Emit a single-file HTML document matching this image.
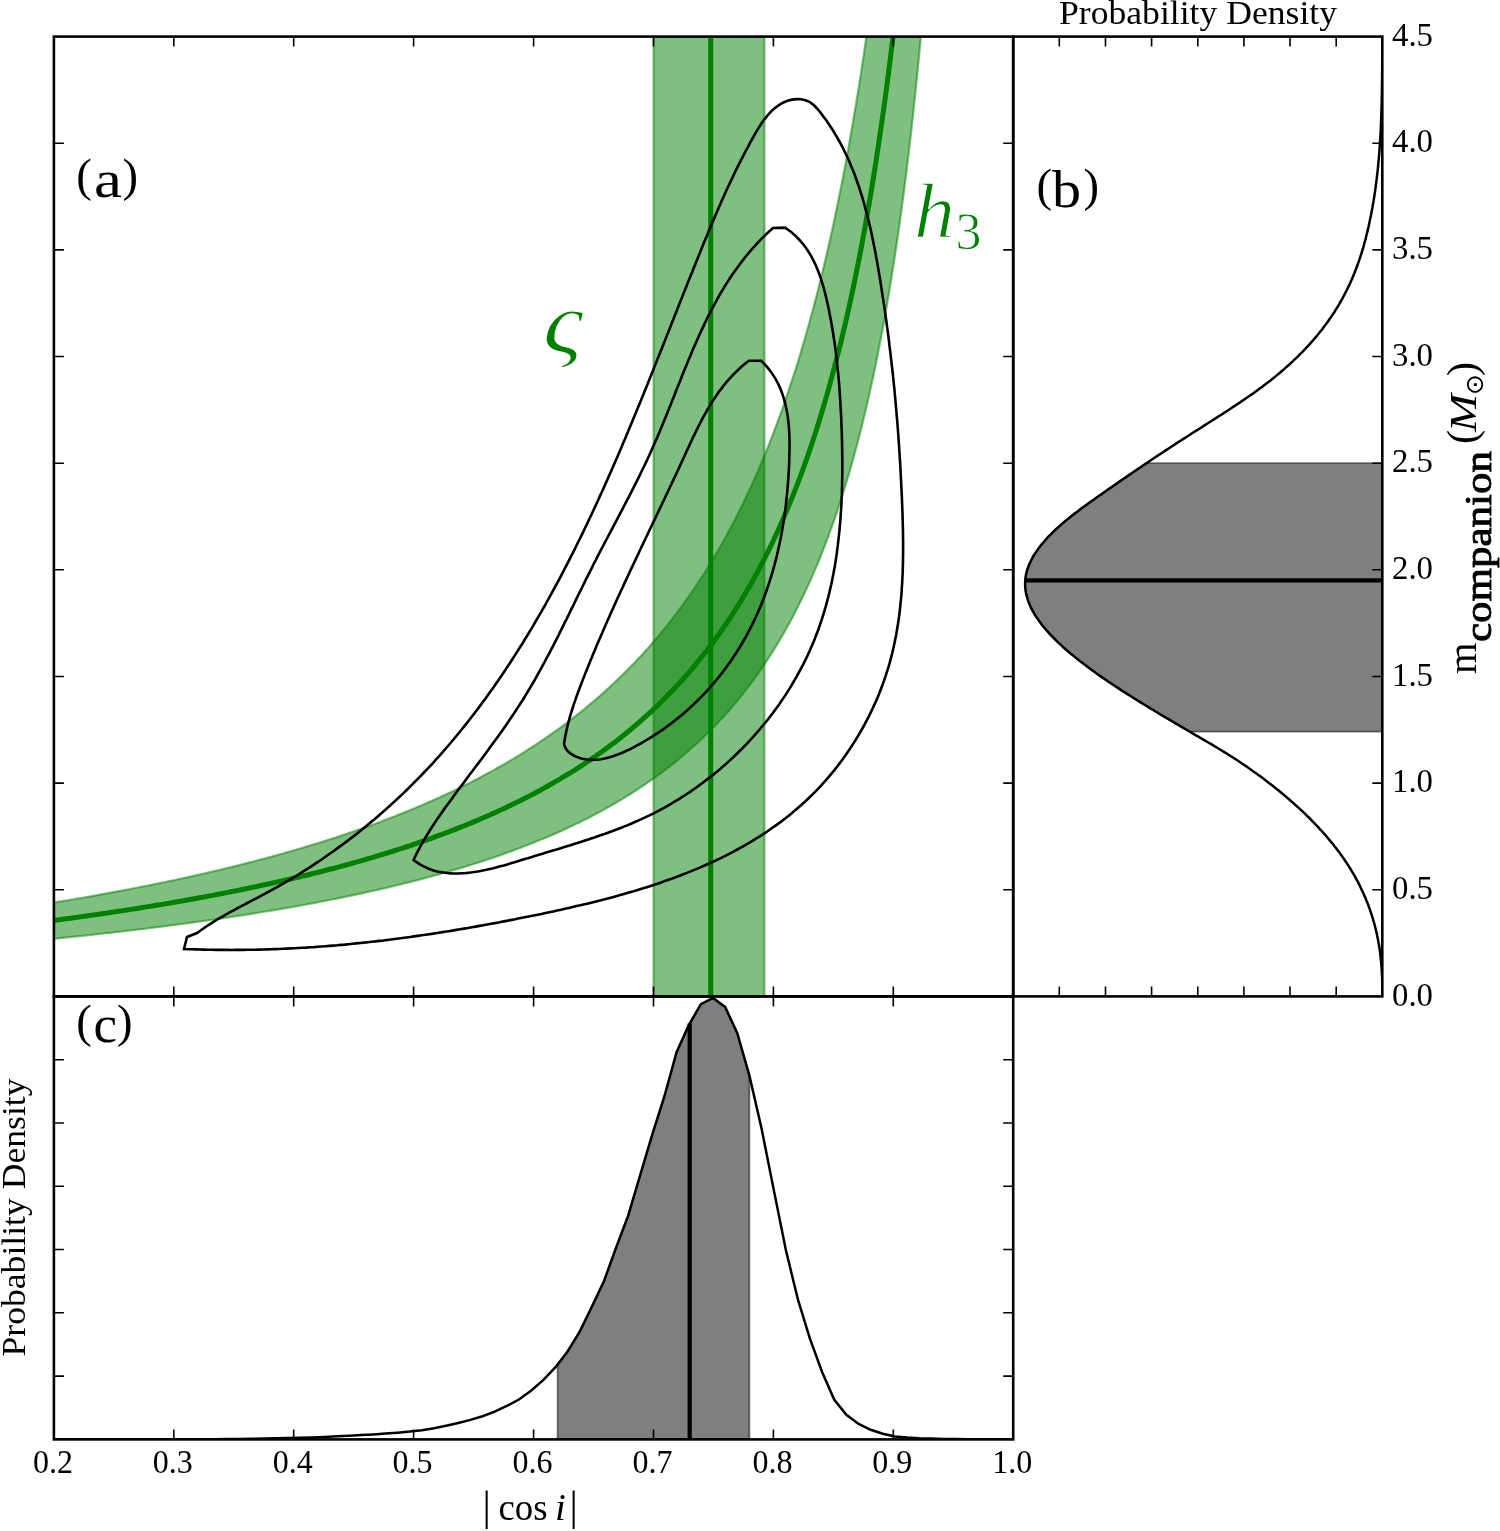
<!DOCTYPE html>
<html><head><meta charset="utf-8"><title>figure</title>
<style>html,body{margin:0;padding:0;background:#fff;}svg{display:block;}</style>
</head><body>
<svg width="1500" height="1531" viewBox="0 0 1500 1531">
<rect x="0" y="0" width="1500" height="1531" fill="#fff"/>
<defs><clipPath id="ca"><rect x="53.9" y="36.6" width="959.3" height="959.8"/></clipPath><clipPath id="cb"><rect x="1013.2" y="36.6" width="369.1" height="959.8"/></clipPath><clipPath id="cc"><rect x="53.9" y="996.4" width="959.3" height="443"/></clipPath></defs>
<g clip-path="url(#ca)">
<path d="M53.9 902.5 L56.6 902.1 L59.3 901.6 L62.1 901.2 L64.8 900.7 L67.5 900.3 L70.2 899.8 L72.9 899.4 L75.6 898.9 L78.4 898.4 L81.1 898 L83.8 897.5 L86.5 897 L89.2 896.6 L91.9 896.1 L94.7 895.6 L97.4 895.1 L100.1 894.6 L102.8 894.1 L105.5 893.6 L108.2 893.1 L111 892.6 L113.7 892.1 L116.4 891.6 L119.1 891.1 L121.8 890.6 L124.6 890.1 L127.3 889.6 L130 889.1 L132.7 888.5 L135.4 888 L138.1 887.5 L140.9 886.9 L143.6 886.4 L146.3 885.9 L149 885.3 L151.7 884.8 L154.4 884.2 L157.2 883.7 L159.9 883.1 L162.6 882.5 L165.3 882 L168 881.4 L170.7 880.8 L173.5 880.3 L176.2 879.7 L178.9 879.1 L181.6 878.5 L184.3 877.9 L187.1 877.3 L189.8 876.7 L192.5 876.1 L195.2 875.5 L197.9 874.9 L200.6 874.3 L203.4 873.7 L206.1 873 L208.8 872.4 L211.5 871.8 L214.2 871.1 L216.9 870.5 L219.7 869.9 L222.4 869.2 L225.1 868.5 L227.8 867.9 L230.5 867.2 L233.2 866.6 L236 865.9 L238.7 865.2 L241.4 864.5 L244.1 863.8 L246.8 863.1 L249.6 862.4 L252.3 861.7 L255 861 L257.7 860.3 L260.4 859.6 L263.1 858.9 L265.9 858.2 L268.6 857.4 L271.3 856.7 L274 855.9 L276.7 855.2 L279.4 854.4 L282.2 853.7 L284.9 852.9 L287.6 852.1 L290.3 851.4 L293 850.6 L295.7 849.8 L298.5 849 L301.2 848.2 L303.9 847.4 L306.6 846.6 L309.3 845.8 L312.1 844.9 L314.8 844.1 L317.5 843.3 L320.2 842.4 L322.9 841.6 L325.6 840.7 L328.4 839.8 L331.1 839 L333.8 838.1 L336.5 837.2 L339.2 836.3 L341.9 835.4 L344.7 834.5 L347.4 833.6 L350.1 832.6 L352.8 831.7 L355.5 830.8 L358.2 829.8 L361 828.9 L363.7 827.9 L366.4 826.9 L369.1 826 L371.8 825 L374.6 824 L377.3 823 L380 822 L382.7 820.9 L385.4 819.9 L388.1 818.9 L390.9 817.8 L393.6 816.8 L396.3 815.7 L399 814.6 L401.7 813.5 L404.4 812.4 L407.2 811.3 L409.9 810.2 L412.6 809.1 L415.3 808 L418 806.8 L420.8 805.7 L423.5 804.5 L426.2 803.3 L428.9 802.1 L431.6 800.9 L434.3 799.7 L437.1 798.5 L439.8 797.3 L442.5 796 L445.2 794.8 L447.9 793.5 L450.6 792.2 L453.4 790.9 L456.1 789.6 L458.8 788.3 L461.5 786.9 L464.2 785.6 L466.9 784.2 L469.7 782.9 L472.4 781.5 L475.1 780.1 L477.8 778.7 L480.5 777.2 L483.3 775.8 L486 774.3 L488.7 772.8 L491.4 771.4 L494.1 769.9 L496.8 768.3 L499.6 766.8 L502.3 765.2 L505 763.7 L507.7 762.1 L510.4 760.5 L513.1 758.9 L515.9 757.2 L518.6 755.6 L521.3 753.9 L524 752.2 L526.7 750.5 L529.4 748.7 L532.2 747 L534.9 745.2 L537.6 743.4 L540.3 741.6 L543 739.8 L545.8 737.9 L548.5 736 L551.2 734.1 L553.9 732.2 L556.6 730.3 L559.3 728.3 L562.1 726.3 L564.8 724.3 L567.5 722.3 L570.2 720.2 L572.9 718.1 L575.6 716 L578.4 713.8 L581.1 711.7 L583.8 709.5 L586.5 707.2 L589.2 705 L591.9 702.7 L594.7 700.4 L597.4 698.1 L600.1 695.7 L602.8 693.3 L605.5 690.8 L608.3 688.4 L611 685.9 L613.7 683.3 L616.4 680.7 L619.1 678.1 L621.8 675.5 L624.6 672.8 L627.3 670.1 L630 667.3 L632.7 664.5 L635.4 661.7 L638.1 658.8 L640.9 655.9 L643.6 652.9 L646.3 649.9 L649 646.9 L651.7 643.8 L654.4 640.6 L657.2 637.4 L659.9 634.2 L662.6 630.9 L665.3 627.6 L668 624.2 L670.8 620.7 L673.5 617.2 L676.2 613.7 L678.9 610 L681.6 606.4 L684.3 602.6 L687.1 598.8 L689.8 594.9 L692.5 591 L695.2 587 L697.9 582.9 L700.6 578.8 L703.4 574.6 L706.1 570.3 L708.8 566 L711.5 561.5 L714.2 557 L716.9 552.4 L719.7 547.7 L722.4 542.9 L725.1 538 L727.8 533.1 L730.5 528 L733.3 522.9 L736 517.6 L738.7 512.3 L741.4 506.8 L744.1 501.2 L746.8 495.5 L749.6 489.7 L752.3 483.8 L755 477.7 L757.7 471.6 L760.4 465.2 L763.1 458.8 L765.9 452.2 L768.6 445.5 L771.3 438.6 L774 431.5 L776.7 424.3 L779.4 416.9 L782.2 409.4 L784.9 401.6 L787.6 393.7 L790.3 385.6 L793 377.3 L795.8 368.8 L798.5 360.1 L801.2 351.1 L803.9 341.9 L806.6 332.5 L809.3 322.8 L812.1 312.8 L814.8 302.6 L817.5 292.1 L820.2 281.3 L822.9 270.2 L825.6 258.8 L828.4 247 L831.1 234.9 L833.8 222.4 L836.5 209.6 L839.2 196.3 L841.9 182.6 L844.7 168.5 L847.4 153.9 L850.1 138.8 L852.8 123.2 L855.5 107.1 L858.3 90.4 L861 73.1 L863.7 55.2 L866.4 36.6 L920.9 36.6 L918 67 L915.1 95.6 L912.2 122.5 L909.3 148 L906.4 172.1 L903.5 194.9 L900.6 216.5 L897.7 237 L894.8 256.6 L891.9 275.1 L889 292.9 L886.1 309.8 L883.2 326 L880.3 341.4 L877.4 356.2 L874.5 370.4 L871.6 384 L868.7 397.1 L865.8 409.6 L862.9 421.7 L860 433.3 L857.1 444.5 L854.2 455.2 L851.3 465.6 L848.4 475.6 L845.5 485.3 L842.6 494.6 L839.7 503.6 L836.8 512.4 L833.9 520.8 L831 529 L828.1 536.9 L825.2 544.6 L822.3 552 L819.4 559.3 L816.5 566.3 L813.6 573.1 L810.7 579.7 L807.8 586.1 L804.9 592.4 L802 598.4 L799.1 604.3 L796.2 610.1 L793.3 615.7 L790.4 621.2 L787.5 626.5 L784.6 631.6 L781.7 636.7 L778.8 641.6 L775.9 646.4 L773 651.1 L770.1 655.7 L767.2 660.2 L764.3 664.5 L761.4 668.8 L758.5 673 L755.6 677 L752.7 681 L749.8 684.9 L746.9 688.7 L744 692.4 L741.1 696.1 L738.2 699.7 L735.3 703.2 L732.4 706.6 L729.5 709.9 L726.6 713.2 L723.7 716.4 L720.8 719.6 L717.9 722.7 L715 725.7 L712.1 728.7 L709.2 731.6 L706.3 734.5 L703.4 737.3 L700.5 740.1 L697.6 742.8 L694.7 745.4 L691.8 748 L688.9 750.6 L686 753.1 L683.1 755.6 L680.2 758 L677.3 760.4 L674.4 762.8 L671.5 765.1 L668.6 767.3 L665.7 769.6 L662.8 771.8 L659.9 773.9 L657 776.1 L654.1 778.1 L651.2 780.2 L648.3 782.2 L645.4 784.2 L642.5 786.2 L639.6 788.1 L636.7 790 L633.8 791.9 L630.9 793.7 L628 795.5 L625.1 797.3 L622.2 799.1 L619.3 800.8 L616.4 802.5 L613.5 804.2 L610.6 805.9 L607.7 807.5 L604.8 809.1 L601.9 810.7 L599 812.3 L596.1 813.8 L593.2 815.4 L590.3 816.9 L587.4 818.4 L584.5 819.8 L581.6 821.3 L578.7 822.7 L575.8 824.1 L572.9 825.5 L570 826.8 L567.1 828.2 L564.2 829.5 L561.3 830.9 L558.4 832.2 L555.5 833.4 L552.6 834.7 L549.7 836 L546.8 837.2 L543.9 838.4 L541 839.6 L538.1 840.8 L535.2 842 L532.3 843.2 L529.4 844.3 L526.5 845.4 L523.6 846.6 L520.7 847.7 L517.8 848.8 L514.9 849.8 L512 850.9 L509.1 852 L506.2 853 L503.3 854.1 L500.4 855.1 L497.5 856.1 L494.6 857.1 L491.7 858.1 L488.8 859.1 L485.9 860 L483 861 L480.1 861.9 L477.2 862.9 L474.3 863.8 L471.4 864.7 L468.5 865.6 L465.6 866.5 L462.7 867.4 L459.8 868.3 L456.9 869.1 L454 870 L451.1 870.8 L448.2 871.7 L445.3 872.5 L442.4 873.3 L439.5 874.2 L436.6 875 L433.7 875.8 L430.8 876.6 L427.9 877.3 L425 878.1 L422.1 878.9 L419.2 879.6 L416.3 880.4 L413.4 881.1 L410.5 881.9 L407.6 882.6 L404.7 883.3 L401.8 884.1 L398.9 884.8 L396 885.5 L393.1 886.2 L390.2 886.9 L387.3 887.6 L384.4 888.2 L381.5 888.9 L378.6 889.6 L375.7 890.2 L372.8 890.9 L369.9 891.5 L367 892.2 L364.2 892.8 L361.3 893.4 L358.4 894.1 L355.5 894.7 L352.6 895.3 L349.7 895.9 L346.8 896.5 L343.9 897.1 L341 897.7 L338.1 898.3 L335.2 898.9 L332.3 899.5 L329.4 900 L326.5 900.6 L323.6 901.2 L320.7 901.7 L317.8 902.3 L314.9 902.8 L312 903.4 L309.1 903.9 L306.2 904.5 L303.3 905 L300.4 905.5 L297.5 906.1 L294.6 906.6 L291.7 907.1 L288.8 907.6 L285.9 908.1 L283 908.6 L280.1 909.1 L277.2 909.6 L274.3 910.1 L271.4 910.6 L268.5 911.1 L265.6 911.5 L262.7 912 L259.8 912.5 L256.9 913 L254 913.4 L251.1 913.9 L248.2 914.3 L245.3 914.8 L242.4 915.3 L239.5 915.7 L236.6 916.1 L233.7 916.6 L230.8 917 L227.9 917.5 L225 917.9 L222.1 918.3 L219.2 918.7 L216.3 919.2 L213.4 919.6 L210.5 920 L207.6 920.4 L204.7 920.8 L201.8 921.2 L198.9 921.6 L196 922 L193.1 922.4 L190.2 922.8 L187.3 923.2 L184.4 923.6 L181.5 924 L178.6 924.4 L175.7 924.8 L172.8 925.2 L169.9 925.5 L167 925.9 L164.1 926.3 L161.2 926.6 L158.3 927 L155.4 927.4 L152.5 927.7 L149.6 928.1 L146.7 928.5 L143.8 928.8 L140.9 929.2 L138 929.5 L135.1 929.9 L132.2 930.2 L129.3 930.6 L126.4 930.9 L123.5 931.2 L120.6 931.6 L117.7 931.9 L114.8 932.2 L111.9 932.6 L109 932.9 L106.1 933.2 L103.2 933.5 L100.3 933.9 L97.4 934.2 L94.5 934.5 L91.6 934.8 L88.7 935.1 L85.8 935.4 L82.9 935.8 L80 936.1 L77.1 936.4 L74.2 936.7 L71.3 937 L68.4 937.3 L65.5 937.6 L62.6 937.9 L59.7 938.2 L56.8 938.5 L53.9 938.7 Z" fill="#008000" fill-opacity="0.5" stroke="#008000" stroke-opacity="0.5" stroke-width="2.2"/>
<rect x="653.6" y="31.6" width="110.8" height="969.8" fill="#008000" fill-opacity="0.5" stroke="#008000" stroke-opacity="0.5" stroke-width="2.2"/>
<path d="M53.9 920.4 L56.7 920 L59.5 919.7 L62.3 919.3 L65.1 918.9 L67.9 918.5 L70.7 918.2 L73.5 917.8 L76.4 917.4 L79.2 917 L82 916.6 L84.8 916.2 L87.6 915.8 L90.4 915.4 L93.2 915 L96 914.6 L98.8 914.2 L101.6 913.8 L104.4 913.4 L107.2 913 L110 912.5 L112.8 912.1 L115.6 911.7 L118.4 911.3 L121.3 910.9 L124.1 910.4 L126.9 910 L129.7 909.6 L132.5 909.1 L135.3 908.7 L138.1 908.2 L140.9 907.8 L143.7 907.3 L146.5 906.9 L149.3 906.4 L152.1 906 L154.9 905.5 L157.7 905 L160.5 904.6 L163.3 904.1 L166.2 903.6 L169 903.2 L171.8 902.7 L174.6 902.2 L177.4 901.7 L180.2 901.2 L183 900.7 L185.8 900.2 L188.6 899.7 L191.4 899.2 L194.2 898.7 L197 898.2 L199.8 897.7 L202.6 897.2 L205.4 896.7 L208.2 896.1 L211.1 895.6 L213.9 895.1 L216.7 894.5 L219.5 894 L222.3 893.5 L225.1 892.9 L227.9 892.4 L230.7 891.8 L233.5 891.2 L236.3 890.7 L239.1 890.1 L241.9 889.5 L244.7 889 L247.5 888.4 L250.3 887.8 L253.1 887.2 L256 886.6 L258.8 886 L261.6 885.4 L264.4 884.8 L267.2 884.2 L270 883.6 L272.8 883 L275.6 882.4 L278.4 881.7 L281.2 881.1 L284 880.5 L286.8 879.8 L289.6 879.2 L292.4 878.5 L295.2 877.8 L298 877.2 L300.9 876.5 L303.7 875.8 L306.5 875.2 L309.3 874.5 L312.1 873.8 L314.9 873.1 L317.7 872.4 L320.5 871.7 L323.3 871 L326.1 870.2 L328.9 869.5 L331.7 868.8 L334.5 868.1 L337.3 867.3 L340.1 866.6 L342.9 865.8 L345.8 865 L348.6 864.3 L351.4 863.5 L354.2 862.7 L357 861.9 L359.8 861.1 L362.6 860.3 L365.4 859.5 L368.2 858.7 L371 857.9 L373.8 857.1 L376.6 856.2 L379.4 855.4 L382.2 854.5 L385 853.7 L387.8 852.8 L390.7 851.9 L393.5 851 L396.3 850.1 L399.1 849.2 L401.9 848.3 L404.7 847.4 L407.5 846.5 L410.3 845.6 L413.1 844.6 L415.9 843.7 L418.7 842.7 L421.5 841.7 L424.3 840.8 L427.1 839.8 L429.9 838.8 L432.7 837.8 L435.6 836.7 L438.4 835.7 L441.2 834.7 L444 833.6 L446.8 832.6 L449.6 831.5 L452.4 830.4 L455.2 829.3 L458 828.2 L460.8 827.1 L463.6 826 L466.4 824.9 L469.2 823.7 L472 822.6 L474.8 821.4 L477.6 820.2 L480.5 819 L483.3 817.8 L486.1 816.6 L488.9 815.4 L491.7 814.1 L494.5 812.9 L497.3 811.6 L500.1 810.3 L502.9 809 L505.7 807.7 L508.5 806.3 L511.3 805 L514.1 803.6 L516.9 802.3 L519.7 800.9 L522.5 799.5 L525.4 798 L528.2 796.6 L531 795.1 L533.8 793.7 L536.6 792.2 L539.4 790.7 L542.2 789.1 L545 787.6 L547.8 786 L550.6 784.4 L553.4 782.8 L556.2 781.2 L559 779.6 L561.8 777.9 L564.6 776.2 L567.4 774.5 L570.3 772.8 L573.1 771 L575.9 769.3 L578.7 767.5 L581.5 765.7 L584.3 763.8 L587.1 762 L589.9 760.1 L592.7 758.1 L595.5 756.2 L598.3 754.2 L601.1 752.2 L603.9 750.2 L606.7 748.2 L609.5 746.1 L612.3 744 L615.2 741.9 L618 739.7 L620.8 737.5 L623.6 735.3 L626.4 733 L629.2 730.7 L632 728.4 L634.8 726 L637.6 723.6 L640.4 721.2 L643.2 718.7 L646 716.2 L648.8 713.6 L651.6 711.1 L654.4 708.4 L657.2 705.8 L660.1 703 L662.9 700.3 L665.7 697.5 L668.5 694.6 L671.3 691.8 L674.1 688.8 L676.9 685.8 L679.7 682.8 L682.5 679.7 L685.3 676.5 L688.1 673.4 L690.9 670.1 L693.7 666.8 L696.5 663.4 L699.3 660 L702.1 656.5 L705 652.9 L707.8 649.3 L710.6 645.6 L713.4 641.9 L716.2 638 L719 634.1 L721.8 630.2 L724.6 626.1 L727.4 622 L730.2 617.8 L733 613.5 L735.8 609.1 L738.6 604.6 L741.4 600 L744.2 595.4 L747 590.6 L749.9 585.7 L752.7 580.8 L755.5 575.7 L758.3 570.5 L761.1 565.2 L763.9 559.8 L766.7 554.2 L769.5 548.6 L772.3 542.8 L775.1 536.8 L777.9 530.7 L780.7 524.5 L783.5 518.1 L786.3 511.6 L789.1 504.9 L791.9 498 L794.8 490.9 L797.6 483.7 L800.4 476.3 L803.2 468.6 L806 460.8 L808.8 452.8 L811.6 444.5 L814.4 436 L817.2 427.2 L820 418.2 L822.8 409 L825.6 399.4 L828.4 389.6 L831.2 379.4 L834 369 L836.8 358.2 L839.7 347 L842.5 335.5 L845.3 323.6 L848.1 311.4 L850.9 298.6 L853.7 285.5 L856.5 271.8 L859.3 257.7 L862.1 243 L864.9 227.8 L867.7 212 L870.5 195.6 L873.3 178.5 L876.1 160.7 L878.9 142.2 L881.7 122.9 L884.6 102.7 L887.4 81.7 L890.2 59.6 L893 36.6" fill="none" stroke="#008000" stroke-width="5"/>
<line x1="710.7" y1="36.6" x2="710.7" y2="996.4" stroke="#008000" stroke-width="5"/>
<path d="M184 949 L187 937 L197 933 L200.2 930.7 L203.4 928.5 L206.6 926.3 L209.9 924.1 L213.2 922.1 L216.5 920 L219.9 918 L223.3 916.1 L226.7 914.1 L230.1 912.2 L233.5 910.4 L236.9 908.5 L240.4 906.7 L243.9 904.8 L247.3 903 L250.8 901.2 L254.3 899.4 L257.8 897.6 L261.2 895.7 L264.7 893.9 L268.1 892 L271.6 890.1 L275 888.2 L278.5 886.3 L281.9 884.4 L285.3 882.4 L288.7 880.4 L292 878.4 L295.4 876.3 L298.8 874.3 L302.1 872.2 L305.4 870.1 L308.7 868 L312 865.8 L315.3 863.7 L318.6 861.5 L321.9 859.3 L325.1 857 L328.3 854.8 L331.6 852.5 L334.8 850.2 L337.9 847.9 L341.1 845.6 L344.3 843.2 L347.4 840.9 L350.6 838.5 L353.7 836.1 L356.8 833.7 L359.9 831.2 L362.9 828.7 L366 826.3 L369 823.8 L372 821.2 L375.1 818.7 L378 816.2 L381 813.6 L384 811 L386.9 808.4 L389.8 805.8 L392.7 803.1 L395.6 800.5 L398.5 797.8 L401.4 795.1 L404.2 792.4 L407 789.7 L409.8 786.9 L412.6 784.2 L415.3 781.4 L418.1 778.6 L420.8 775.8 L423.5 773 L426.2 770.2 L428.9 767.3 L431.6 764.5 L434.2 761.6 L436.8 758.7 L439.4 755.8 L442 752.9 L444.6 749.9 L447.1 747 L449.7 744 L452.2 741 L454.7 738 L457.2 735 L459.7 732 L462.1 729 L464.6 725.9 L467 722.9 L469.4 719.8 L471.8 716.7 L474.2 713.6 L476.5 710.5 L478.9 707.4 L481.2 704.3 L483.5 701.1 L485.9 698 L488.1 694.8 L490.4 691.6 L492.7 688.4 L494.9 685.2 L497.2 682 L499.4 678.8 L501.6 675.6 L503.8 672.3 L505.9 669.1 L508.1 665.8 L510.3 662.5 L512.4 659.2 L514.5 655.9 L516.6 652.6 L518.7 649.3 L520.8 646 L522.9 642.7 L524.9 639.3 L527 636 L529 632.6 L531 629.3 L533.1 625.9 L535 622.5 L537 619.1 L539 615.7 L541 612.3 L542.9 608.9 L544.9 605.5 L546.8 602 L548.7 598.6 L550.6 595.1 L552.5 591.7 L554.4 588.2 L556.2 584.8 L558.1 581.3 L560 577.8 L561.8 574.3 L563.6 570.8 L565.4 567.3 L567.2 563.8 L569 560.3 L570.8 556.8 L572.6 553.3 L574.4 549.8 L576.1 546.2 L577.9 542.7 L579.6 539.2 L581.4 535.6 L583.1 532.1 L584.8 528.5 L586.5 525 L588.2 521.4 L589.9 517.8 L591.6 514.3 L593.2 510.7 L594.9 507.1 L596.6 503.5 L598.2 500 L599.8 496.4 L601.5 492.8 L603.1 489.2 L604.7 485.6 L606.3 482 L607.9 478.4 L609.5 474.8 L611.1 471.2 L612.7 467.6 L614.2 464 L615.8 460.4 L617.4 456.8 L618.9 453.2 L620.5 449.5 L622 445.9 L623.5 442.3 L625.1 438.7 L626.6 435.1 L628.1 431.5 L629.6 427.8 L631.1 424.2 L632.6 420.6 L634.1 417 L635.6 413.3 L637.1 409.7 L638.6 406.1 L640.1 402.4 L641.6 398.8 L643.1 395.2 L644.5 391.5 L646 387.9 L647.5 384.3 L648.9 380.7 L650.4 377 L651.8 373.4 L653.3 369.8 L654.7 366.1 L656.2 362.5 L657.6 358.9 L659.1 355.2 L660.5 351.6 L662 348 L663.4 344.3 L664.9 340.7 L666.3 337.1 L667.7 333.4 L669.2 329.8 L670.6 326.2 L672 322.5 L673.5 318.9 L674.9 315.3 L676.3 311.7 L677.8 308 L679.2 304.4 L680.6 300.8 L682.1 297.2 L683.5 293.6 L685 290 L686.4 286.3 L687.8 282.7 L689.3 279.1 L690.7 275.5 L692.2 271.9 L693.6 268.3 L695.1 264.7 L696.5 261.1 L698 257.5 L699.4 253.9 L700.9 250.3 L702.3 246.7 L703.8 243.1 L705.3 239.5 L706.8 236 L708.2 232.4 L709.7 228.8 L711.2 225.2 L712.7 221.6 L714.3 218 L715.8 214.5 L717.3 210.9 L718.9 207.3 L720.5 203.7 L722 200.1 L723.7 196.5 L725.3 192.9 L726.9 189.3 L728.6 185.7 L730.3 182.1 L732 178.5 L733.7 174.9 L735.4 171.3 L737.2 167.7 L739 164.1 L740.9 160.4 L742.7 156.8 L744.6 153.1 L746.5 149.5 L748.5 145.8 L750.4 142.2 L752.5 138.5 L754.5 134.8 L756.6 131.2 L758.8 127.6 L761 124.2 L763.3 120.8 L765.8 117.6 L768.3 114.5 L770.9 111.7 L773.7 109 L776.6 106.7 L779.7 104.6 L782.9 102.7 L786.3 101.3 L789.9 100.1 L793.6 99.4 L797.3 99.1 L801 99.3 L804.6 100 L808 101.2 L811.1 103 L814 105.3 L816.6 108 L819.2 111 L821.6 114.1 L823.9 117.2 L826.2 120.3 L828.4 123.5 L830.6 126.7 L832.7 130 L834.7 133.3 L836.7 136.6 L838.6 140 L840.5 143.4 L842.3 146.8 L844 150.3 L845.7 153.8 L847.4 157.3 L849 160.8 L850.5 164.4 L852 168 L853.5 171.6 L854.9 175.3 L856.2 179 L857.5 182.7 L858.8 186.4 L860 190.1 L861.2 193.9 L862.4 197.7 L863.5 201.5 L864.6 205.3 L865.6 209.1 L866.6 213 L867.6 216.8 L868.6 220.7 L869.5 224.6 L870.4 228.5 L871.3 232.4 L872.1 236.3 L872.9 240.2 L873.7 244.1 L874.5 248.1 L875.3 252 L876 255.9 L876.7 259.9 L877.4 263.8 L878.1 267.7 L878.8 271.7 L879.4 275.6 L880.1 279.5 L880.7 283.5 L881.3 287.4 L881.9 291.3 L882.5 295.2 L883.1 299.1 L883.7 303 L884.3 306.9 L884.9 310.9 L885.4 314.8 L886 318.6 L886.5 322.5 L887 326.4 L887.6 330.3 L888.1 334.2 L888.6 338.1 L889.1 342 L889.5 345.9 L890 349.7 L890.5 353.6 L890.9 357.5 L891.4 361.4 L891.8 365.2 L892.3 369.1 L892.7 373 L893.1 376.8 L893.5 380.7 L893.9 384.6 L894.3 388.4 L894.7 392.3 L895 396.2 L895.4 400.1 L895.7 403.9 L896.1 407.8 L896.4 411.7 L896.7 415.5 L897.1 419.4 L897.4 423.3 L897.7 427.2 L898 431 L898.3 434.9 L898.5 438.8 L898.8 442.7 L899.1 446.6 L899.3 450.4 L899.6 454.3 L899.8 458.2 L900.1 462.1 L900.3 466 L900.5 469.9 L900.7 473.8 L900.9 477.7 L901.1 481.6 L901.3 485.5 L901.5 489.5 L901.7 493.4 L901.9 497.3 L902 501.2 L902.2 505.2 L902.3 509.1 L902.5 513 L902.6 517 L902.7 520.9 L902.8 524.9 L902.9 528.8 L903 532.8 L903 536.7 L903.1 540.7 L903.1 544.6 L903.1 548.6 L903.1 552.5 L903 556.5 L903 560.4 L902.9 564.4 L902.8 568.3 L902.7 572.2 L902.5 576.2 L902.3 580.1 L902.1 584.1 L901.8 588 L901.6 591.9 L901.3 595.9 L900.9 599.8 L900.5 603.7 L900.1 607.6 L899.7 611.5 L899.2 615.4 L898.7 619.3 L898.1 623.2 L897.5 627.1 L896.8 630.9 L896.2 634.8 L895.4 638.6 L894.6 642.5 L893.8 646.3 L892.9 650.2 L892 654 L891 657.8 L890 661.6 L889 665.4 L887.8 669.1 L886.6 672.9 L885.4 676.7 L884.1 680.4 L882.8 684.1 L881.4 687.8 L880 691.5 L878.5 695.2 L877 698.9 L875.4 702.5 L873.7 706.1 L872.1 709.7 L870.3 713.3 L868.6 716.9 L866.7 720.4 L864.9 723.9 L863 727.4 L861 730.9 L859 734.3 L857 737.7 L854.9 741.1 L852.8 744.4 L850.6 747.8 L848.4 751 L846.2 754.3 L843.9 757.5 L841.6 760.7 L839.2 763.9 L836.8 767 L834.4 770.1 L831.9 773.1 L829.4 776.1 L826.8 779.1 L824.3 782 L821.7 784.9 L819 787.8 L816.3 790.6 L813.6 793.3 L810.9 796 L808.1 798.7 L805.3 801.4 L802.4 804 L799.6 806.5 L796.7 809 L793.7 811.5 L790.8 814 L787.8 816.4 L784.8 818.7 L781.7 821.1 L778.7 823.4 L775.6 825.6 L772.4 827.8 L769.3 830 L766.1 832.2 L762.9 834.3 L759.7 836.4 L756.4 838.4 L753.2 840.4 L749.9 842.4 L746.5 844.3 L743.2 846.3 L739.8 848.1 L736.4 850 L733 851.8 L729.6 853.6 L726.2 855.4 L722.7 857.1 L719.2 858.8 L715.7 860.5 L712.2 862.1 L708.6 863.7 L705.1 865.3 L701.5 866.9 L697.9 868.4 L694.3 869.9 L690.7 871.4 L687 872.9 L683.3 874.3 L679.7 875.7 L676 877.1 L672.3 878.5 L668.6 879.8 L664.8 881.1 L661.1 882.4 L657.4 883.7 L653.6 884.9 L649.8 886.2 L646 887.4 L642.2 888.6 L638.4 889.7 L634.6 890.9 L630.8 892 L627 893.1 L623.1 894.2 L619.3 895.3 L615.4 896.4 L611.6 897.4 L607.7 898.4 L603.8 899.5 L600 900.4 L596.1 901.4 L592.2 902.4 L588.3 903.4 L584.4 904.3 L580.5 905.2 L576.6 906.1 L572.7 907 L568.8 907.9 L564.9 908.8 L561 909.7 L557.1 910.5 L553.2 911.4 L549.3 912.2 L545.4 913 L541.5 913.9 L537.6 914.7 L533.7 915.5 L529.8 916.3 L525.9 917 L522 917.8 L518.1 918.6 L514.2 919.4 L510.4 920.1 L506.5 920.9 L502.6 921.6 L498.7 922.4 L494.9 923.1 L491 923.8 L487.1 924.5 L483.3 925.2 L479.4 925.9 L475.6 926.6 L471.7 927.3 L467.9 928 L464 928.6 L460.1 929.3 L456.3 929.9 L452.4 930.6 L448.6 931.2 L444.8 931.8 L440.9 932.4 L437.1 933 L433.2 933.6 L429.4 934.2 L425.5 934.8 L421.7 935.3 L417.8 935.9 L414 936.4 L410.2 937 L406.3 937.5 L402.5 938 L398.6 938.5 L394.8 939 L390.9 939.5 L387.1 940 L383.3 940.5 L379.4 940.9 L375.6 941.4 L371.7 941.8 L367.9 942.2 L364 942.6 L360.2 943 L356.3 943.4 L352.5 943.8 L348.6 944.2 L344.8 944.6 L340.9 944.9 L337.1 945.3 L333.2 945.6 L329.3 945.9 L325.5 946.2 L321.6 946.5 L317.7 946.8 L313.9 947.1 L310 947.3 L306.1 947.6 L302.2 947.8 L298.3 948 L294.5 948.2 L290.6 948.4 L286.7 948.6 L282.8 948.8 L278.9 949 L275 949.1 L271.1 949.3 L267.2 949.4 L263.2 949.5 L259.3 949.6 L255.4 949.7 L251.5 949.8 L247.5 949.8 L243.6 949.9 L239.7 949.9 L235.7 949.9 L231.8 950 L227.8 949.9 L223.9 949.9 L219.9 949.9 L215.9 949.9 L212 949.8 L208 949.7 L204 949.6 L200 949.5 L196 949.4 L192 949.3 L188 949.2 Z" fill="none" stroke="#000" stroke-width="2.6" stroke-linejoin="miter" stroke-miterlimit="3"/>
<path d="M413.6 860 L415.1 856.7 L416.7 853.4 L418.4 850.2 L420.1 847 L421.8 843.8 L423.6 840.6 L425.5 837.5 L427.4 834.4 L429.3 831.3 L431.2 828.2 L433.2 825.2 L435.2 822.1 L437.3 819.1 L439.4 816.1 L441.5 813.1 L443.6 810.1 L445.7 807.1 L447.9 804.1 L450 801.2 L452.2 798.2 L454.3 795.2 L456.5 792.3 L458.7 789.3 L460.9 786.4 L463.1 783.5 L465.3 780.5 L467.5 777.6 L469.7 774.6 L471.9 771.7 L474.1 768.7 L476.4 765.8 L478.6 762.9 L480.8 759.9 L483 757 L485.2 754 L487.4 751 L489.5 748.1 L491.7 745.1 L493.9 742.1 L496 739.2 L498.2 736.2 L500.3 733.2 L502.5 730.2 L504.6 727.2 L506.7 724.2 L508.8 721.1 L510.8 718.1 L512.9 715.1 L514.9 712 L516.9 708.9 L518.9 705.9 L520.9 702.8 L522.9 699.7 L524.8 696.5 L526.7 693.4 L528.6 690.3 L530.5 687.1 L532.4 683.9 L534.2 680.8 L536 677.6 L537.8 674.4 L539.6 671.1 L541.4 667.9 L543.2 664.7 L544.9 661.5 L546.6 658.2 L548.4 655 L550.1 651.7 L551.8 648.4 L553.5 645.1 L555.1 641.9 L556.8 638.6 L558.5 635.3 L560.1 632 L561.8 628.7 L563.4 625.4 L565 622.1 L566.7 618.8 L568.3 615.5 L569.9 612.2 L571.5 608.9 L573.2 605.6 L574.8 602.2 L576.4 598.9 L578 595.6 L579.6 592.3 L581.3 589 L582.9 585.7 L584.5 582.4 L586.1 579.1 L587.8 575.8 L589.4 572.6 L591.1 569.3 L592.7 566 L594.4 562.7 L596.1 559.5 L597.7 556.2 L599.4 553 L601.1 549.7 L602.8 546.5 L604.5 543.2 L606.2 540 L607.9 536.8 L609.6 533.5 L611.3 530.3 L613 527.1 L614.7 523.8 L616.4 520.6 L618.1 517.4 L619.8 514.1 L621.5 510.9 L623.2 507.7 L624.9 504.4 L626.6 501.2 L628.3 497.9 L630 494.7 L631.6 491.4 L633.3 488.2 L634.9 484.9 L636.6 481.6 L638.2 478.4 L639.8 475.1 L641.4 471.8 L643 468.5 L644.6 465.2 L646.2 461.9 L647.8 458.5 L649.3 455.2 L650.8 451.9 L652.3 448.5 L653.8 445.1 L655.3 441.7 L656.8 438.4 L658.2 435 L659.7 431.6 L661.1 428.1 L662.5 424.7 L663.9 421.3 L665.3 417.9 L666.7 414.4 L668.1 411 L669.5 407.5 L670.9 404.1 L672.2 400.6 L673.6 397.2 L675 393.7 L676.3 390.3 L677.7 386.8 L679.1 383.4 L680.5 379.9 L681.8 376.5 L683.2 373 L684.6 369.6 L686 366.2 L687.4 362.7 L688.8 359.3 L690.3 355.9 L691.7 352.5 L693.1 349.1 L694.6 345.7 L696.1 342.3 L697.6 338.9 L699.1 335.6 L700.6 332.2 L702.2 328.9 L703.7 325.6 L705.3 322.3 L706.9 319 L708.5 315.7 L710.2 312.4 L711.9 309.2 L713.6 306 L715.3 302.8 L717 299.6 L718.8 296.4 L720.6 293.2 L722.5 290.1 L724.4 287 L726.3 283.9 L728.2 280.9 L730.2 277.8 L732.2 274.8 L734.3 271.8 L736.4 268.9 L738.5 265.9 L740.7 263 L742.9 260.1 L745.1 257.3 L747.4 254.5 L749.8 251.7 L752.2 248.9 L754.6 246.2 L757.1 243.5 L759.6 240.8 L762.2 238.2 L764.8 235.6 L767.5 233 L770.2 230.5 L773 228 L785 227.6 L788 229.7 L790.9 231.8 L793.6 234.1 L796.2 236.5 L798.6 239 L801 241.6 L803.2 244.2 L805.3 247 L807.2 249.8 L809.1 252.7 L810.9 255.7 L812.6 258.8 L814.1 261.9 L815.6 265 L817 268.3 L818.3 271.5 L819.6 274.9 L820.7 278.2 L821.8 281.6 L822.9 285.1 L823.9 288.5 L824.8 292 L825.7 295.5 L826.5 299 L827.3 302.6 L828.1 306.1 L828.8 309.6 L829.5 313.2 L830.2 316.7 L830.9 320.3 L831.5 323.8 L832.1 327.3 L832.7 330.9 L833.3 334.4 L833.8 337.9 L834.4 341.5 L834.9 345 L835.3 348.5 L835.8 352.1 L836.2 355.6 L836.7 359.1 L837.1 362.7 L837.4 366.2 L837.8 369.8 L838.2 373.3 L838.5 376.8 L838.8 380.4 L839.1 383.9 L839.4 387.5 L839.6 391 L839.9 394.6 L840.1 398.1 L840.3 401.7 L840.5 405.3 L840.7 408.8 L840.9 412.4 L841.1 416 L841.3 419.5 L841.4 423.1 L841.5 426.7 L841.7 430.3 L841.8 433.9 L841.9 437.5 L842 441.1 L842.1 444.7 L842.1 448.3 L842.2 451.9 L842.2 455.5 L842.3 459.1 L842.3 462.7 L842.3 466.3 L842.3 469.9 L842.3 473.5 L842.2 477.1 L842.2 480.7 L842.1 484.4 L842 488 L841.9 491.6 L841.8 495.2 L841.6 498.8 L841.5 502.4 L841.3 506 L841.1 509.6 L840.8 513.2 L840.6 516.8 L840.3 520.4 L840 524 L839.7 527.6 L839.4 531.2 L839 534.7 L838.6 538.3 L838.2 541.9 L837.8 545.4 L837.3 549 L836.9 552.5 L836.4 556.1 L835.8 559.6 L835.3 563.1 L834.7 566.7 L834 570.2 L833.4 573.7 L832.7 577.2 L832 580.7 L831.3 584.2 L830.5 587.6 L829.7 591.1 L828.9 594.5 L828 598 L827.1 601.4 L826.2 604.8 L825.2 608.3 L824.2 611.7 L823.2 615 L822.1 618.4 L821 621.8 L819.8 625.1 L818.7 628.5 L817.5 631.8 L816.2 635.1 L814.9 638.4 L813.6 641.7 L812.2 645 L810.8 648.2 L809.4 651.5 L807.9 654.7 L806.4 657.9 L804.8 661.1 L803.2 664.3 L801.6 667.4 L799.9 670.6 L798.2 673.7 L796.5 676.8 L794.7 679.9 L792.9 683 L791.1 686.1 L789.2 689.1 L787.3 692.1 L785.4 695.1 L783.4 698.1 L781.4 701 L779.4 704 L777.3 706.9 L775.2 709.8 L773.1 712.7 L770.9 715.5 L768.7 718.4 L766.5 721.2 L764.2 724 L761.9 726.7 L759.6 729.5 L757.3 732.2 L754.9 734.9 L752.5 737.6 L750.1 740.2 L747.7 742.8 L745.2 745.4 L742.7 748 L740.1 750.5 L737.6 753 L735 755.5 L732.4 758 L729.8 760.4 L727.1 762.9 L724.4 765.2 L721.7 767.6 L719 769.9 L716.2 772.2 L713.5 774.5 L710.7 776.7 L707.8 778.9 L705 781.1 L702.1 783.3 L699.2 785.4 L696.3 787.5 L693.4 789.5 L690.5 791.6 L687.5 793.5 L684.5 795.5 L681.5 797.4 L678.5 799.3 L675.4 801.2 L672.4 803 L669.3 804.8 L666.2 806.6 L663.1 808.3 L660 810 L656.8 811.7 L653.7 813.3 L650.5 814.9 L647.3 816.4 L644.1 817.9 L640.9 819.4 L637.6 820.9 L634.4 822.3 L631.1 823.7 L627.8 825.1 L624.5 826.4 L621.2 827.7 L617.9 829 L614.6 830.3 L611.3 831.5 L607.9 832.7 L604.5 834 L601.2 835.1 L597.8 836.3 L594.4 837.5 L591 838.6 L587.6 839.7 L584.2 840.8 L580.7 841.9 L577.3 843 L573.9 844.1 L570.4 845.2 L566.9 846.3 L563.5 847.3 L560 848.4 L556.5 849.5 L553 850.5 L549.5 851.6 L546 852.6 L542.5 853.7 L539 854.7 L535.5 855.8 L532 856.9 L528.5 858 L525 859 L521.4 860.1 L517.9 861.2 L514.4 862.3 L510.9 863.3 L507.3 864.4 L503.8 865.4 L500.3 866.3 L496.8 867.3 L493.3 868.2 L489.8 869 L486.3 869.8 L482.8 870.5 L479.3 871.2 L475.8 871.8 L472.3 872.3 L468.9 872.7 L465.4 873.1 L462 873.3 L458.6 873.5 L455.2 873.5 L451.8 873.4 L448.4 873.2 L445.1 872.8 L441.8 872.3 L438.5 871.7 L435.3 870.9 L432.1 869.9 L428.9 868.7 L425.8 867.4 L422.6 865.9 L419.6 864.1 L416.6 862.2 Z" fill="none" stroke="#000" stroke-width="2.6" stroke-linejoin="miter" stroke-miterlimit="3"/>
<path d="M564 744 L564.4 741.3 L564.8 738.7 L565.3 736 L565.9 733.4 L566.4 730.7 L567 728.1 L567.6 725.5 L568.3 722.9 L569 720.3 L569.7 717.7 L570.4 715.2 L571.2 712.6 L572 710 L572.8 707.5 L573.6 704.9 L574.5 702.4 L575.4 699.9 L576.2 697.3 L577.2 694.8 L578.1 692.3 L579 689.8 L580 687.2 L580.9 684.7 L581.9 682.2 L582.8 679.7 L583.8 677.2 L584.8 674.7 L585.8 672.2 L586.8 669.7 L587.8 667.2 L588.8 664.7 L589.8 662.2 L590.8 659.7 L591.9 657.2 L592.9 654.7 L593.9 652.3 L595 649.8 L596 647.3 L597 644.8 L598.1 642.3 L599.2 639.8 L600.2 637.4 L601.3 634.9 L602.4 632.4 L603.4 629.9 L604.5 627.4 L605.6 625 L606.7 622.5 L607.8 620 L608.9 617.6 L610 615.1 L611.1 612.6 L612.2 610.2 L613.3 607.7 L614.4 605.2 L615.5 602.8 L616.6 600.3 L617.8 597.8 L618.9 595.4 L620 592.9 L621.1 590.5 L622.3 588 L623.4 585.6 L624.5 583.1 L625.7 580.6 L626.8 578.2 L628 575.7 L629.1 573.3 L630.3 570.8 L631.4 568.4 L632.6 565.9 L633.7 563.5 L634.9 561 L636 558.6 L637.2 556.1 L638.4 553.7 L639.5 551.2 L640.7 548.8 L641.8 546.3 L643 543.9 L644.2 541.4 L645.3 539 L646.5 536.5 L647.7 534.1 L648.8 531.6 L650 529.2 L651.2 526.7 L652.3 524.3 L653.5 521.8 L654.7 519.4 L655.8 516.9 L657 514.5 L658.2 512 L659.3 509.6 L660.5 507.1 L661.7 504.7 L662.8 502.2 L664 499.8 L665.2 497.3 L666.3 494.9 L667.5 492.4 L668.6 490 L669.8 487.5 L671 485 L672.1 482.6 L673.3 480.1 L674.4 477.7 L675.6 475.2 L676.7 472.8 L677.9 470.3 L679 467.9 L680.1 465.4 L681.3 462.9 L682.4 460.5 L683.5 458 L684.7 455.5 L685.8 453.1 L686.9 450.6 L688.1 448.2 L689.2 445.7 L690.3 443.3 L691.5 440.8 L692.6 438.4 L693.8 435.9 L695 433.5 L696.1 431.1 L697.3 428.7 L698.5 426.2 L699.8 423.9 L701 421.5 L702.2 419.1 L703.5 416.7 L704.8 414.4 L706.1 412.1 L707.4 409.7 L708.8 407.4 L710.1 405.2 L711.5 402.9 L712.9 400.6 L714.4 398.4 L715.9 396.2 L717.4 394 L718.9 391.8 L720.5 389.7 L722.1 387.6 L723.7 385.5 L725.4 383.4 L727.1 381.4 L728.9 379.3 L730.7 377.4 L732.5 375.4 L734.4 373.5 L736.3 371.6 L738.3 369.7 L740.3 367.8 L742.3 366 L744.4 364.2 L746.6 362.5 L748.8 360.8 L761.2 360.8 L763 362.6 L764.7 364.4 L766.4 366.2 L768 368.1 L769.5 370 L771 371.9 L772.3 373.9 L773.6 375.9 L774.9 377.9 L776.1 379.9 L777.2 382 L778.3 384.1 L779.3 386.2 L780.2 388.3 L781.1 390.5 L781.9 392.7 L782.7 394.9 L783.4 397.1 L784.1 399.3 L784.7 401.6 L785.3 403.9 L785.8 406.2 L786.3 408.5 L786.8 410.8 L787.2 413.1 L787.6 415.5 L787.9 417.8 L788.2 420.2 L788.5 422.6 L788.7 425 L788.9 427.4 L789.1 429.8 L789.2 432.2 L789.3 434.6 L789.4 437.1 L789.5 439.5 L789.5 442 L789.5 444.4 L789.5 446.9 L789.5 449.3 L789.5 451.8 L789.4 454.3 L789.3 456.7 L789.3 459.2 L789.2 461.7 L789.1 464.1 L789 466.6 L788.9 469 L788.7 471.5 L788.6 474 L788.4 476.4 L788.3 478.9 L788.1 481.3 L787.9 483.8 L787.7 486.2 L787.5 488.7 L787.3 491.1 L787.1 493.6 L786.8 496 L786.6 498.5 L786.3 500.9 L786 503.3 L785.8 505.8 L785.5 508.2 L785.2 510.6 L784.8 513 L784.5 515.5 L784.1 517.9 L783.8 520.3 L783.4 522.7 L783 525.1 L782.6 527.5 L782.2 529.9 L781.8 532.3 L781.3 534.7 L780.9 537.1 L780.4 539.4 L779.9 541.8 L779.4 544.2 L778.9 546.6 L778.4 548.9 L777.9 551.3 L777.3 553.6 L776.8 556 L776.2 558.3 L775.6 560.7 L775 563 L774.4 565.3 L773.7 567.7 L773.1 570 L772.4 572.3 L771.7 574.6 L771 576.9 L770.3 579.2 L769.6 581.5 L768.8 583.8 L768.1 586 L767.3 588.3 L766.5 590.6 L765.7 592.8 L764.9 595.1 L764 597.3 L763.2 599.5 L762.3 601.8 L761.4 604 L760.5 606.2 L759.6 608.4 L758.7 610.6 L757.7 612.8 L756.7 615 L755.7 617.1 L754.7 619.3 L753.7 621.5 L752.7 623.6 L751.6 625.7 L750.5 627.9 L749.4 630 L748.3 632.1 L747.2 634.2 L746.1 636.3 L744.9 638.4 L743.7 640.5 L742.5 642.6 L741.3 644.6 L740.1 646.7 L738.8 648.7 L737.5 650.7 L736.3 652.8 L735 654.8 L733.6 656.8 L732.3 658.7 L730.9 660.7 L729.6 662.7 L728.2 664.6 L726.8 666.6 L725.4 668.5 L723.9 670.4 L722.5 672.4 L721 674.3 L719.5 676.1 L718 678 L716.5 679.9 L714.9 681.7 L713.4 683.6 L711.8 685.4 L710.2 687.2 L708.6 689 L707 690.8 L705.3 692.6 L703.7 694.3 L702 696.1 L700.3 697.8 L698.6 699.5 L696.9 701.2 L695.1 702.9 L693.4 704.6 L691.6 706.3 L689.8 707.9 L688 709.5 L686.2 711.2 L684.3 712.8 L682.5 714.4 L680.6 715.9 L678.7 717.5 L676.8 719 L674.9 720.6 L672.9 722.1 L671 723.6 L669 725 L667 726.5 L665 728 L663 729.4 L660.9 730.8 L658.9 732.2 L656.8 733.6 L654.7 734.9 L652.6 736.3 L650.5 737.6 L648.4 738.9 L646.2 740.2 L644.1 741.5 L641.9 742.8 L639.7 744 L637.5 745.2 L635.3 746.4 L633 747.6 L630.8 748.8 L628.5 749.9 L626.2 750.9 L624 752 L621.7 753 L619.4 753.9 L617.1 754.8 L614.8 755.6 L612.5 756.4 L610.2 757.1 L607.9 757.7 L605.6 758.3 L603.4 758.8 L601.1 759.2 L598.8 759.5 L596.6 759.7 L594.3 759.8 L592.1 759.9 L589.9 759.8 L587.7 759.6 L585.5 759.3 L583.3 758.9 L581.2 758.4 L579.1 757.8 L577 757 L574.9 756.1 L572.9 755 L570.9 753.8 L569.1 752.4 L567.4 750.7 L566 748.8 L564.9 746.6 Z" fill="none" stroke="#000" stroke-width="2.6" stroke-linejoin="miter" stroke-miterlimit="3"/>
</g>
<g clip-path="url(#cb)">
<path d="M1146.5 463.2 L1144.5 464.5 L1142.5 465.9 L1140.5 467.2 L1138.5 468.6 L1136.5 469.9 L1134.5 471.3 L1132.6 472.6 L1130.6 474 L1128.6 475.3 L1126.6 476.7 L1124.7 478 L1122.7 479.4 L1120.7 480.7 L1118.8 482.1 L1116.8 483.4 L1114.9 484.8 L1112.9 486.1 L1111 487.5 L1109 488.8 L1107.1 490.2 L1105.2 491.5 L1103.2 492.9 L1101.3 494.2 L1099.4 495.6 L1097.5 496.9 L1095.6 498.3 L1093.7 499.6 L1091.8 501 L1089.9 502.3 L1088 503.7 L1086.2 505 L1084.3 506.4 L1082.5 507.7 L1080.7 509.1 L1078.9 510.4 L1077.1 511.8 L1075.3 513.1 L1073.6 514.5 L1071.8 515.8 L1070.1 517.2 L1068.5 518.5 L1066.8 519.9 L1065.2 521.2 L1063.6 522.5 L1062 523.9 L1060.4 525.2 L1058.9 526.6 L1057.4 527.9 L1055.9 529.3 L1054.5 530.6 L1053.1 532 L1051.7 533.3 L1050.4 534.7 L1049.1 536 L1047.8 537.4 L1046.5 538.7 L1045.3 540.1 L1044.1 541.4 L1043 542.8 L1041.9 544.1 L1040.8 545.5 L1039.7 546.8 L1038.7 548.2 L1037.7 549.5 L1036.8 550.9 L1035.9 552.2 L1035 553.6 L1034.1 554.9 L1033.3 556.3 L1032.6 557.6 L1031.8 559 L1031.1 560.3 L1030.5 561.7 L1029.8 563 L1029.3 564.4 L1028.7 565.7 L1028.2 567.1 L1027.7 568.4 L1027.3 569.8 L1026.9 571.1 L1026.5 572.5 L1026.2 573.8 L1025.9 575.2 L1025.7 576.5 L1025.5 577.9 L1025.3 579.2 L1025.2 580.6 L1025.1 581.9 L1025.1 583.3 L1025.1 584.6 L1025.1 586 L1025.2 587.3 L1025.4 588.7 L1025.5 590 L1025.7 591.4 L1025.9 592.7 L1026.2 594.1 L1026.5 595.4 L1026.9 596.8 L1027.3 598.1 L1027.7 599.5 L1028.2 600.8 L1028.6 602.2 L1029.2 603.5 L1029.7 604.9 L1030.3 606.2 L1031 607.6 L1031.6 608.9 L1032.3 610.3 L1033.1 611.6 L1033.8 613 L1034.6 614.3 L1035.5 615.7 L1036.3 617 L1037.2 618.4 L1038.2 619.7 L1039.1 621.1 L1040.1 622.4 L1041.1 623.8 L1042.2 625.1 L1043.3 626.5 L1044.4 627.8 L1045.5 629.1 L1046.7 630.5 L1047.9 631.8 L1049.1 633.2 L1050.3 634.5 L1051.6 635.9 L1052.9 637.2 L1054.2 638.6 L1055.6 639.9 L1057 641.3 L1058.4 642.6 L1059.8 644 L1061.3 645.3 L1062.7 646.7 L1064.2 648 L1065.8 649.4 L1067.3 650.7 L1068.9 652.1 L1070.5 653.4 L1072.1 654.8 L1073.7 656.1 L1075.4 657.5 L1077.1 658.8 L1078.8 660.2 L1080.5 661.5 L1082.3 662.9 L1084 664.2 L1085.8 665.6 L1087.6 666.9 L1089.4 668.3 L1091.3 669.6 L1093.1 671 L1095 672.3 L1096.9 673.7 L1098.8 675 L1100.7 676.4 L1102.7 677.7 L1104.6 679.1 L1106.6 680.4 L1108.6 681.8 L1110.6 683.1 L1112.6 684.5 L1114.6 685.8 L1116.7 687.2 L1118.8 688.5 L1120.8 689.9 L1122.9 691.2 L1125 692.6 L1127.1 693.9 L1129.2 695.3 L1131.4 696.6 L1133.5 698 L1135.7 699.3 L1137.9 700.7 L1140 702 L1142.2 703.4 L1144.4 704.7 L1146.6 706.1 L1148.8 707.4 L1151.1 708.8 L1153.3 710.1 L1155.5 711.5 L1157.8 712.8 L1160 714.2 L1162.3 715.5 L1164.6 716.9 L1166.8 718.2 L1169.1 719.6 L1171.4 720.9 L1173.7 722.3 L1176 723.6 L1178.3 725 L1180.6 726.3 L1182.9 727.7 L1185.2 729 L1187.5 730.4 L1189.8 731.7 L1382.3 731.7 L1382.3 463.2 Z" fill="#000" fill-opacity="0.5" stroke="#000" stroke-opacity="0.5" stroke-width="1.8"/>
<path d="M1382.3 36.6 L1382.3 38.5 L1382.3 40.4 L1382.3 42.4 L1382.3 44.3 L1382.3 46.2 L1382.3 48.1 L1382.3 50.1 L1382.3 52 L1382.3 53.9 L1382.3 55.8 L1382.3 57.8 L1382.3 59.7 L1382.2 61.6 L1382.2 63.5 L1382.2 65.5 L1382.2 67.4 L1382.2 69.3 L1382.2 71.2 L1382.1 73.1 L1382.1 75.1 L1382.1 77 L1382.1 78.9 L1382.1 80.8 L1382 82.8 L1382 84.7 L1382 86.6 L1382 88.5 L1381.9 90.5 L1381.9 92.4 L1381.9 94.3 L1381.8 96.2 L1381.8 98.2 L1381.7 100.1 L1381.7 102 L1381.7 103.9 L1381.6 105.8 L1381.6 107.8 L1381.5 109.7 L1381.4 111.6 L1381.4 113.5 L1381.3 115.5 L1381.2 117.4 L1381.2 119.3 L1381.1 121.2 L1381 123.2 L1380.9 125.1 L1380.9 127 L1380.8 128.9 L1380.7 130.8 L1380.6 132.8 L1380.5 134.7 L1380.4 136.6 L1380.2 138.5 L1380.1 140.5 L1380 142.4 L1379.9 144.3 L1379.8 146.2 L1379.6 148.2 L1379.5 150.1 L1379.3 152 L1379.2 153.9 L1379 155.9 L1378.9 157.8 L1378.7 159.7 L1378.5 161.6 L1378.3 163.5 L1378.2 165.5 L1378 167.4 L1377.8 169.3 L1377.6 171.2 L1377.3 173.2 L1377.1 175.1 L1376.9 177 L1376.7 178.9 L1376.4 180.9 L1376.2 182.8 L1375.9 184.7 L1375.7 186.6 L1375.4 188.6 L1375.2 190.5 L1374.9 192.4 L1374.6 194.3 L1374.3 196.2 L1374 198.2 L1373.7 200.1 L1373.4 202 L1373 203.9 L1372.7 205.9 L1372.4 207.8 L1372 209.7 L1371.6 211.6 L1371.3 213.6 L1370.9 215.5 L1370.5 217.4 L1370.1 219.3 L1369.7 221.3 L1369.3 223.2 L1368.9 225.1 L1368.5 227 L1368 228.9 L1367.6 230.9 L1367.1 232.8 L1366.6 234.7 L1366.1 236.6 L1365.7 238.6 L1365.2 240.5 L1364.6 242.4 L1364.1 244.3 L1363.6 246.3 L1363 248.2 L1362.4 250.1 L1361.9 252 L1361.3 253.9 L1360.6 255.9 L1360 257.8 L1359.4 259.7 L1358.7 261.6 L1358 263.6 L1357.3 265.5 L1356.6 267.4 L1355.9 269.3 L1355.1 271.3 L1354.4 273.2 L1353.6 275.1 L1352.8 277 L1352 279 L1351.1 280.9 L1350.3 282.8 L1349.4 284.7 L1348.5 286.6 L1347.5 288.6 L1346.6 290.5 L1345.6 292.4 L1344.6 294.3 L1343.6 296.3 L1342.6 298.2 L1341.5 300.1 L1340.4 302 L1339.3 304 L1338.2 305.9 L1337 307.8 L1335.8 309.7 L1334.6 311.7 L1333.3 313.6 L1332.1 315.5 L1330.8 317.4 L1329.4 319.3 L1328.1 321.3 L1326.7 323.2 L1325.3 325.1 L1323.8 327 L1322.4 329 L1320.9 330.9 L1319.3 332.8 L1317.8 334.7 L1316.2 336.7 L1314.5 338.6 L1312.9 340.5 L1311.2 342.4 L1309.5 344.4 L1307.7 346.3 L1305.9 348.2 L1304.1 350.1 L1302.2 352 L1300.3 354 L1298.4 355.9 L1296.4 357.8 L1294.4 359.7 L1292.4 361.7 L1290.3 363.6 L1288.2 365.5 L1286 367.4 L1283.8 369.4 L1281.6 371.3 L1279.3 373.2 L1277 375.1 L1274.6 377.1 L1272.3 379 L1269.8 380.9 L1267.4 382.8 L1264.8 384.7 L1262.3 386.7 L1259.7 388.6 L1257.1 390.5 L1254.4 392.4 L1251.7 394.4 L1248.9 396.3 L1246.1 398.2 L1243.3 400.1 L1240.5 402.1 L1237.6 404 L1234.7 405.9 L1231.8 407.8 L1228.9 409.7 L1225.9 411.7 L1223 413.6 L1220 415.5 L1217 417.4 L1214 419.4 L1211 421.3 L1207.9 423.2 L1204.9 425.1 L1201.9 427.1 L1198.9 429 L1195.9 430.9 L1192.8 432.8 L1189.8 434.8 L1186.8 436.7 L1183.8 438.6 L1180.9 440.5 L1177.9 442.4 L1174.9 444.4 L1172 446.3 L1169.1 448.2 L1166.1 450.1 L1163.2 452.1 L1160.3 454 L1157.4 455.9 L1154.5 457.8 L1151.6 459.8 L1148.7 461.7 L1145.9 463.6 L1143 465.5 L1140.2 467.5 L1137.3 469.4 L1134.5 471.3 L1131.7 473.2 L1128.9 475.1 L1126 477.1 L1123.2 479 L1120.4 480.9 L1117.7 482.8 L1114.9 484.8 L1112.1 486.7 L1109.3 488.6 L1106.6 490.5 L1103.8 492.5 L1101.1 494.4 L1098.3 496.3 L1095.6 498.2 L1092.9 500.2 L1090.2 502.1 L1087.5 504 L1084.9 505.9 L1082.3 507.8 L1079.7 509.8 L1077.2 511.7 L1074.6 513.6 L1072.2 515.5 L1069.7 517.5 L1067.4 519.4 L1065 521.3 L1062.7 523.2 L1060.5 525.2 L1058.4 527.1 L1056.2 529 L1054.2 530.9 L1052.2 532.8 L1050.3 534.8 L1048.4 536.7 L1046.6 538.6 L1044.9 540.5 L1043.3 542.5 L1041.7 544.4 L1040.1 546.3 L1038.7 548.2 L1037.3 550.2 L1036 552.1 L1034.7 554 L1033.5 555.9 L1032.4 557.9 L1031.4 559.8 L1030.5 561.7 L1029.6 563.6 L1028.8 565.5 L1028.1 567.5 L1027.4 569.4 L1026.8 571.3 L1026.3 573.2 L1025.9 575.2 L1025.6 577.1 L1025.4 579 L1025.2 580.9 L1025.1 582.9 L1025.1 584.8 L1025.2 586.7 L1025.3 588.6 L1025.6 590.6 L1025.9 592.5 L1026.3 594.4 L1026.8 596.3 L1027.3 598.2 L1027.9 600.2 L1028.6 602.1 L1029.4 604 L1030.2 605.9 L1031.1 607.9 L1032.1 609.8 L1033.1 611.7 L1034.2 613.6 L1035.4 615.6 L1036.7 617.5 L1038 619.4 L1039.3 621.3 L1040.8 623.3 L1042.2 625.2 L1043.8 627.1 L1045.4 629 L1047.1 630.9 L1048.8 632.9 L1050.6 634.8 L1052.4 636.7 L1054.3 638.6 L1056.2 640.6 L1058.2 642.5 L1060.3 644.4 L1062.3 646.3 L1064.5 648.3 L1066.7 650.2 L1068.9 652.1 L1071.2 654 L1073.5 655.9 L1075.9 657.9 L1078.3 659.8 L1080.8 661.7 L1083.2 663.6 L1085.8 665.6 L1088.4 667.5 L1091 669.4 L1093.6 671.3 L1096.3 673.3 L1099 675.2 L1101.8 677.1 L1104.6 679 L1107.4 681 L1110.2 682.9 L1113.1 684.8 L1116 686.7 L1118.9 688.6 L1121.9 690.6 L1124.9 692.5 L1127.9 694.4 L1130.9 696.3 L1134 698.3 L1137.1 700.2 L1140.2 702.1 L1143.3 704 L1146.5 706 L1149.6 707.9 L1152.8 709.8 L1156 711.7 L1159.2 713.7 L1162.4 715.6 L1165.6 717.5 L1168.9 719.4 L1172.1 721.3 L1175.4 723.3 L1178.7 725.2 L1182 727.1 L1185.2 729 L1188.5 731 L1191.8 732.9 L1195.1 734.8 L1198.4 736.7 L1201.7 738.7 L1205 740.6 L1208.3 742.5 L1211.6 744.4 L1214.8 746.4 L1218 748.3 L1221.2 750.2 L1224.3 752.1 L1227.5 754 L1230.5 756 L1233.5 757.9 L1236.5 759.8 L1239.4 761.7 L1242.3 763.7 L1245.2 765.6 L1248 767.5 L1250.7 769.4 L1253.4 771.4 L1256.1 773.3 L1258.7 775.2 L1261.3 777.1 L1263.9 779.1 L1266.4 781 L1268.9 782.9 L1271.4 784.8 L1273.9 786.7 L1276.3 788.7 L1278.7 790.6 L1281 792.5 L1283.3 794.4 L1285.6 796.4 L1287.9 798.3 L1290.1 800.2 L1292.3 802.1 L1294.5 804.1 L1296.6 806 L1298.7 807.9 L1300.8 809.8 L1302.8 811.7 L1304.9 813.7 L1306.8 815.6 L1308.8 817.5 L1310.7 819.4 L1312.6 821.4 L1314.5 823.3 L1316.3 825.2 L1318.2 827.1 L1319.9 829.1 L1321.7 831 L1323.4 832.9 L1325.1 834.8 L1326.8 836.8 L1328.4 838.7 L1330 840.6 L1331.6 842.5 L1333.2 844.4 L1334.7 846.4 L1336.2 848.3 L1337.6 850.2 L1339.1 852.1 L1340.5 854.1 L1341.9 856 L1343.2 857.9 L1344.5 859.8 L1345.8 861.8 L1347.1 863.7 L1348.4 865.6 L1349.6 867.5 L1350.8 869.5 L1351.9 871.4 L1353.1 873.3 L1354.2 875.2 L1355.3 877.1 L1356.3 879.1 L1357.3 881 L1358.4 882.9 L1359.3 884.8 L1360.3 886.8 L1361.2 888.7 L1362.1 890.6 L1363 892.5 L1363.9 894.5 L1364.7 896.4 L1365.6 898.3 L1366.3 900.2 L1367.1 902.2 L1367.9 904.1 L1368.6 906 L1369.3 907.9 L1370 909.8 L1370.6 911.8 L1371.3 913.7 L1371.9 915.6 L1372.5 917.5 L1373.1 919.5 L1373.6 921.4 L1374.2 923.3 L1374.7 925.2 L1375.2 927.2 L1375.7 929.1 L1376.1 931 L1376.6 932.9 L1377 934.8 L1377.4 936.8 L1377.8 938.7 L1378.2 940.6 L1378.5 942.5 L1378.9 944.5 L1379.2 946.4 L1379.5 948.3 L1379.8 950.2 L1380 952.2 L1380.3 954.1 L1380.5 956 L1380.7 957.9 L1380.9 959.9 L1381.1 961.8 L1381.3 963.7 L1381.4 965.6 L1381.6 967.5 L1381.7 969.5 L1381.8 971.4 L1381.9 973.3 L1382 975.2 L1382.1 977.2 L1382.2 979.1 L1382.2 981 L1382.2 982.9 L1382.3 984.9 L1382.3 986.8 L1382.3 988.7 L1382.3 990.6 L1382.2 992.6 L1382.2 994.5 L1382.2 996.4" fill="none" stroke="#000" stroke-width="2.5"/>
<line x1="1025.2" y1="580.4" x2="1382.3" y2="580.4" stroke="#000" stroke-width="4.2"/>
</g>
<g clip-path="url(#cc)">
<path d="M557.6 1364.4 L567.4 1351.7 L579.6 1331.8 L591.7 1307 L603.8 1281.6 L616 1247.8 L628.1 1215.9 L640.2 1175 L652.4 1134.1 L664.5 1096 L676.6 1052.2 L688.7 1025.3 L700.9 1004.1 L713 998 L725.1 1006.9 L737.3 1033.2 L749.4 1075.6 L749.4 1075.6 L749.4 1439.4 L557.6 1439.4 Z" fill="#000" fill-opacity="0.5" stroke="#000" stroke-opacity="0.5" stroke-width="1.8"/>
<path d="M53.9 1439.4 L58 1439.4 L70.1 1439.4 L82.2 1439.4 L94.4 1439.4 L106.5 1439.4 L118.6 1439.4 L130.8 1439.4 L142.9 1439.4 L155 1439.4 L167.1 1439.3 L179.3 1439.3 L191.4 1439.3 L203.5 1439.3 L215.7 1439.2 L227.8 1439.1 L239.9 1439 L252.1 1438.8 L264.2 1438.6 L276.3 1438.3 L288.4 1438.1 L300.6 1437.8 L312.7 1437.4 L324.8 1436.9 L337 1436.3 L349.1 1435.7 L361.2 1435.1 L373.4 1434.4 L385.5 1433.6 L397.6 1432.7 L409.8 1431.6 L421.9 1430.2 L434 1428.2 L446.1 1425.7 L458.3 1423 L470.4 1419.9 L482.5 1416.2 L494.7 1411.7 L506.8 1406 L518.9 1399.5 L531 1390.8 L543.2 1380.2 L555.3 1367.4 L567.4 1351.7 L579.6 1331.8 L591.7 1307 L603.8 1281.6 L616 1247.8 L628.1 1215.9 L640.2 1175 L652.4 1134.1 L664.5 1096 L676.6 1052.2 L688.7 1025.3 L700.9 1004.1 L713 998 L725.1 1006.9 L737.3 1033.2 L749.4 1075.6 L761.5 1128.3 L773.6 1189.1 L785.8 1249.8 L797.9 1299.4 L810 1338.9 L822.2 1372.3 L834.3 1399.8 L846.4 1414.8 L858.6 1423.9 L870.7 1429.8 L882.8 1433.8 L895 1436.5 L907.1 1437.5 L919.2 1438.2 L931.3 1438.6 L943.5 1438.9 L955.6 1439.1 L967.7 1439.2 L979.9 1439.3 L992 1439.3 L1004.1 1439.4 L1013.2 1439.4" fill="none" stroke="#000" stroke-width="2.5"/>
<line x1="689.7" y1="1023.6" x2="689.7" y2="1439.4" stroke="#000" stroke-width="4.2"/>
</g>
<path d="M173.8 36.6L173.8 46.6 M173.8 996.4L173.8 986.4 M173.8 996.4L173.8 1006.4 M173.8 1439.4L173.8 1429.4 M293.7 36.6L293.7 46.6 M293.7 996.4L293.7 986.4 M293.7 996.4L293.7 1006.4 M293.7 1439.4L293.7 1429.4 M413.6 36.6L413.6 46.6 M413.6 996.4L413.6 986.4 M413.6 996.4L413.6 1006.4 M413.6 1439.4L413.6 1429.4 M533.6 36.6L533.6 46.6 M533.6 996.4L533.6 986.4 M533.6 996.4L533.6 1006.4 M533.6 1439.4L533.6 1429.4 M653.5 36.6L653.5 46.6 M653.5 996.4L653.5 986.4 M653.5 996.4L653.5 1006.4 M653.5 1439.4L653.5 1429.4 M773.4 36.6L773.4 46.6 M773.4 996.4L773.4 986.4 M773.4 996.4L773.4 1006.4 M773.4 1439.4L773.4 1429.4 M893.3 36.6L893.3 46.6 M893.3 996.4L893.3 986.4 M893.3 996.4L893.3 1006.4 M893.3 1439.4L893.3 1429.4 M53.9 889.8L63.9 889.8 M1013.2 889.8L1003.2 889.8 M1382.3 889.8L1372.3 889.8 M53.9 783.1L63.9 783.1 M1013.2 783.1L1003.2 783.1 M1382.3 783.1L1372.3 783.1 M53.9 676.5L63.9 676.5 M1013.2 676.5L1003.2 676.5 M1382.3 676.5L1372.3 676.5 M53.9 569.8L63.9 569.8 M1013.2 569.8L1003.2 569.8 M1382.3 569.8L1372.3 569.8 M53.9 463.2L63.9 463.2 M1013.2 463.2L1003.2 463.2 M1382.3 463.2L1372.3 463.2 M53.9 356.5L63.9 356.5 M1013.2 356.5L1003.2 356.5 M1382.3 356.5L1372.3 356.5 M53.9 249.9L63.9 249.9 M1013.2 249.9L1003.2 249.9 M1382.3 249.9L1372.3 249.9 M53.9 143.2L63.9 143.2 M1013.2 143.2L1003.2 143.2 M1382.3 143.2L1372.3 143.2 M1059.3 36.6L1059.3 46.6 M1059.3 996.4L1059.3 986.4 M1105.5 36.6L1105.5 46.6 M1105.5 996.4L1105.5 986.4 M1151.6 36.6L1151.6 46.6 M1151.6 996.4L1151.6 986.4 M1197.8 36.6L1197.8 46.6 M1197.8 996.4L1197.8 986.4 M1243.9 36.6L1243.9 46.6 M1243.9 996.4L1243.9 986.4 M1290 36.6L1290 46.6 M1290 996.4L1290 986.4 M1336.2 36.6L1336.2 46.6 M1336.2 996.4L1336.2 986.4 M53.9 1059.7L63.9 1059.7 M1013.2 1059.7L1003.2 1059.7 M53.9 1123L63.9 1123 M1013.2 1123L1003.2 1123 M53.9 1186.3L63.9 1186.3 M1013.2 1186.3L1003.2 1186.3 M53.9 1249.5L63.9 1249.5 M1013.2 1249.5L1003.2 1249.5 M53.9 1312.8L63.9 1312.8 M1013.2 1312.8L1003.2 1312.8 M53.9 1376.1L63.9 1376.1 M1013.2 1376.1L1003.2 1376.1" stroke="#000" stroke-width="1.6" fill="none"/>
<g fill="none" stroke="#000" stroke-width="2.6" stroke-linejoin="miter">
<rect x="53.9" y="36.6" width="959.3" height="959.8"/>
<rect x="1013.2" y="36.6" width="369.1" height="959.8"/>
<rect x="53.9" y="996.4" width="959.3" height="443"/>
</g>
<g font-family="'Liberation Serif', serif" fill="#000">
<text x="52.9" y="1473.4" font-size="33.6" text-anchor="middle" textLength="40" lengthAdjust="spacingAndGlyphs">0.2</text>
<text x="172.8" y="1473.4" font-size="33.6" text-anchor="middle" textLength="40" lengthAdjust="spacingAndGlyphs">0.3</text>
<text x="292.7" y="1473.4" font-size="33.6" text-anchor="middle" textLength="40" lengthAdjust="spacingAndGlyphs">0.4</text>
<text x="412.6" y="1473.4" font-size="33.6" text-anchor="middle" textLength="40" lengthAdjust="spacingAndGlyphs">0.5</text>
<text x="532.6" y="1473.4" font-size="33.6" text-anchor="middle" textLength="40" lengthAdjust="spacingAndGlyphs">0.6</text>
<text x="652.5" y="1473.4" font-size="33.6" text-anchor="middle" textLength="40" lengthAdjust="spacingAndGlyphs">0.7</text>
<text x="772.4" y="1473.4" font-size="33.6" text-anchor="middle" textLength="40" lengthAdjust="spacingAndGlyphs">0.8</text>
<text x="892.3" y="1473.4" font-size="33.6" text-anchor="middle" textLength="40" lengthAdjust="spacingAndGlyphs">0.9</text>
<text x="1012.2" y="1473.4" font-size="33.6" text-anchor="middle" textLength="40" lengthAdjust="spacingAndGlyphs">1.0</text>
<text x="1392" y="1005.6" font-size="33.6" textLength="41" lengthAdjust="spacingAndGlyphs">0.0</text>
<text x="1392" y="899" font-size="33.6" textLength="41" lengthAdjust="spacingAndGlyphs">0.5</text>
<text x="1392" y="792.3" font-size="33.6" textLength="41" lengthAdjust="spacingAndGlyphs">1.0</text>
<text x="1392" y="685.7" font-size="33.6" textLength="41" lengthAdjust="spacingAndGlyphs">1.5</text>
<text x="1392" y="579" font-size="33.6" textLength="41" lengthAdjust="spacingAndGlyphs">2.0</text>
<text x="1392" y="472.4" font-size="33.6" textLength="41" lengthAdjust="spacingAndGlyphs">2.5</text>
<text x="1392" y="365.7" font-size="33.6" textLength="41" lengthAdjust="spacingAndGlyphs">3.0</text>
<text x="1392" y="259.1" font-size="33.6" textLength="41" lengthAdjust="spacingAndGlyphs">3.5</text>
<text x="1392" y="152.4" font-size="33.6" textLength="41" lengthAdjust="spacingAndGlyphs">4.0</text>
<text x="1392" y="45.8" font-size="33.6" textLength="41" lengthAdjust="spacingAndGlyphs">4.5</text>
<text x="76.2" y="190.8" font-size="46.7">(</text>
<text x="94" y="196.7" font-size="53" textLength="28" lengthAdjust="spacingAndGlyphs">a</text>
<text x="122.5" y="190.8" font-size="46.7">)</text>
<text x="1036.6" y="201.4" font-size="46.7">(</text>
<text x="1052" y="207" font-size="53" textLength="29" lengthAdjust="spacingAndGlyphs">b</text>
<text x="1083.5" y="201.4" font-size="46.7">)</text>
<text x="76.2" y="1036.6" font-size="46.7">(</text>
<text x="93.5" y="1042" font-size="53">c</text>
<text x="117" y="1036.6" font-size="46.7">)</text>
<text x="1059" y="23.7" font-size="33.8" textLength="278" lengthAdjust="spacingAndGlyphs">Probability Density</text>
<text transform="translate(25 1356.5) rotate(-90)" font-size="33.8" textLength="278" lengthAdjust="spacingAndGlyphs">Probability Density</text>
<text x="482.5" y="1520.2" font-size="41.5">|</text>
<text x="498.5" y="1520.2" font-size="38.8" textLength="49" lengthAdjust="spacingAndGlyphs">cos</text>
<text x="555" y="1520.2" font-size="38.8" font-style="italic">i</text>
<text x="569.6" y="1520.2" font-size="41.5">|</text>
<g transform="translate(1475.8 674) rotate(-90)">
<text x="0" y="0" font-size="40.5">m</text>
<text x="32" y="14.7" font-size="38" stroke="#000" stroke-width="0.9" textLength="191" lengthAdjust="spacingAndGlyphs">companion</text>
<text x="230" y="0" font-size="42">(</text>
<text x="242" y="0" font-size="37.8" font-style="italic" textLength="38" lengthAdjust="spacingAndGlyphs">M</text>
<text x="279" y="6.8" font-size="25" font-family="'DejaVu Sans', sans-serif">⊙</text>
<text x="298" y="0" font-size="42">)</text>
</g>
<text x="543" y="353" font-size="88" fill="#008000" font-style="italic" stroke="#fff" stroke-width="1.3" textLength="40" lengthAdjust="spacingAndGlyphs">ς</text>
<text x="914" y="238" font-size="78" fill="#008000" font-style="italic" stroke="#fff" stroke-width="1.4" textLength="41" lengthAdjust="spacingAndGlyphs">h</text>
<text x="955.5" y="248.5" font-size="52" fill="#008000" stroke="#fff" stroke-width="0.8">3</text>
</g>
</svg>
</body></html>
